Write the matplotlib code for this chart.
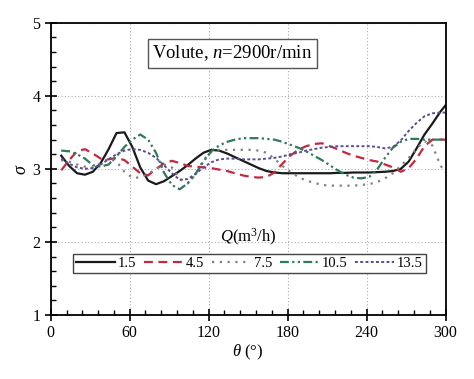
import matplotlib
matplotlib.use("Agg")
import matplotlib.pyplot as plt
from matplotlib.ticker import MultipleLocator

theta = [8, 14, 20, 26, 32, 38, 44, 50, 56, 62, 68, 74, 80, 86, 92, 98, 104, 110, 116, 122,
         128, 134, 140, 146, 152, 158, 164, 170, 176, 182, 188, 194, 200, 206, 212, 218, 224,
         230, 236, 242, 248, 254, 260, 266, 272, 278, 284, 290, 296, 300]

q15 = [3.18, 3.04, 2.94, 2.92, 2.96, 3.08, 3.27, 3.49, 3.50, 3.30, 3.02, 2.84, 2.79, 2.83, 2.90,
       2.97, 3.05, 3.14, 3.22, 3.26, 3.25, 3.21, 3.16, 3.11, 3.06, 3.01, 2.97, 2.95, 2.94, 2.94,
       2.94, 2.94, 2.94, 2.94, 2.94, 2.945, 2.945, 2.95, 2.95, 2.95, 2.955, 2.96, 2.97, 3.00,
       3.10, 3.28, 3.47, 3.62, 3.78, 3.87]
q45 = [2.98, 3.12, 3.24, 3.27, 3.21, 3.14, 3.13, 3.15, 3.12, 3.03, 2.94, 2.91, 3.00, 3.07, 3.11,
       3.08, 3.04, 3.03, 3.02, 3.01, 2.99, 2.97, 2.94, 2.91, 2.89, 2.88, 2.89, 2.95, 3.07, 3.18,
       3.26, 3.31, 3.34, 3.35, 3.31, 3.27, 3.22, 3.18, 3.15, 3.12, 3.10, 3.06, 3.02, 2.96, 3.01,
       3.14, 3.31, 3.40, 3.40, 3.40]
q75 = [3.12, 3.10, 3.06, 3.03, 3.02, 3.08, 3.14, 3.10, 2.96, 2.88, 2.88, 2.93, 3.00, 3.06, 3.02,
       2.86, 2.80, 2.92, 3.12, 3.23, 3.26, 3.26, 3.26, 3.26, 3.26, 3.25, 3.22, 3.14, 3.04, 2.96,
       2.89, 2.84, 2.81, 2.78, 2.77, 2.77, 2.77, 2.77, 2.78, 2.79, 2.82, 2.87, 2.94, 3.04, 3.15,
       3.28, 3.38, 3.32, 3.05, 2.95]
q105 = [3.25, 3.24, 3.20, 3.14, 3.05, 3.03, 3.06, 3.17, 3.30, 3.40, 3.47, 3.40, 3.22, 2.95, 2.78,
        2.72, 2.80, 2.93, 3.10, 3.24, 3.32, 3.37, 3.40, 3.42, 3.42, 3.42, 3.41, 3.40, 3.37, 3.33,
        3.29, 3.24, 3.18, 3.12, 3.05, 2.98, 2.92, 2.88, 2.87, 2.89, 2.99, 3.15, 3.29, 3.37, 3.41,
        3.41, 3.40, 3.40, 3.40, 3.40]
q135 = [3.14, 3.07, 3.02, 3.00, 3.01, 3.06, 3.13, 3.20, 3.25, 3.27, 3.26, 3.22, 3.15, 3.05, 2.94,
        2.85, 2.86, 2.93, 3.02, 3.09, 3.13, 3.14, 3.14, 3.13, 3.13, 3.13, 3.14, 3.15, 3.17, 3.20,
        3.22, 3.25, 3.27, 3.29, 3.30, 3.31, 3.31, 3.31, 3.31, 3.31, 3.30, 3.28, 3.30, 3.39, 3.52,
        3.63, 3.72, 3.76, 3.77, 3.77]

labels = ["1.5", "4.5", "7.5", "10.5", "13.5"]
series = [q15, q45, q75, q105, q135]

plt.rcParams['font.family'] = ['Liberation Serif', 'DejaVu Serif']
plt.rcParams['mathtext.fontset'] = 'custom'
plt.rcParams['mathtext.rm'] = 'Liberation Serif'
plt.rcParams['mathtext.it'] = 'Liberation Serif:italic'

fig = plt.figure(figsize=(4.74, 3.79), dpi=100)
ax = fig.add_axes([0.107, 0.169, 0.833, 0.771])

styles = [
    dict(color='#1a1a1a', linestyle='-', linewidth=1.6),
    dict(color='#c4283e', linestyle=(0, (4, 2.5)), linewidth=1.6),
    dict(color='#808080', linestyle=(0, (1, 2.5)), linewidth=1.6),
    dict(color='#2f7a5a', linestyle=(0, (4, 1.5, 1, 1.5, 1, 1.5)), linewidth=1.6),
    dict(color='#5a4d8f', linestyle=(0, (1.5, 1.2)), linewidth=1.4),
]
for y, lab, st in zip(series, labels, styles):
    ax.plot(theta, y, label=lab, **st)

ax.set_xlim(0, 300)
ax.set_ylim(1, 5)
ax.xaxis.set_major_locator(MultipleLocator(60))
ax.xaxis.set_minor_locator(MultipleLocator(12))
ax.yaxis.set_major_locator(MultipleLocator(1))
ax.yaxis.set_minor_locator(MultipleLocator(0.2))
ax.tick_params(which='major', direction='inout', length=8, width=1.2, labelsize=11.5)
ax.tick_params(which='minor', direction='in', length=3.5, width=1.0)
ax.tick_params(top=False, right=False, which='both')
for s in ax.spines.values():
    s.set_linewidth(1.3)
ax.grid(True, which='major', linestyle=(0, (1, 2)), color='#aaaaaa', linewidth=0.8)

ax.set_xlabel(r'$\it{\theta}$ (°)', fontsize=12, labelpad=1)
ax.set_ylabel(r'$\it{\sigma}$', fontsize=13, labelpad=2)

ax.text(0.46, 0.895, r'Volute, $\it{n}$=2900r/min', transform=ax.transAxes,
        ha='center', va='center', fontsize=13.5,
        bbox=dict(boxstyle='square,pad=0.25', facecolor='white', edgecolor='#555555', linewidth=1))

ax.text(0.50, 0.266, r'$\it{Q}$(m$^3$/h)', transform=ax.transAxes, ha='center', va='center', fontsize=12)

leg = ax.legend(loc='center', bbox_to_anchor=(0.503, 0.177), ncol=5, fontsize=10.5,
                handlelength=2.7, handletextpad=0.2, columnspacing=0.5, borderpad=0.2,
                borderaxespad=0, fancybox=False, framealpha=1, edgecolor='#444444')
leg.get_frame().set_linewidth(1.0)

fig.savefig('out.png', dpi=100)
